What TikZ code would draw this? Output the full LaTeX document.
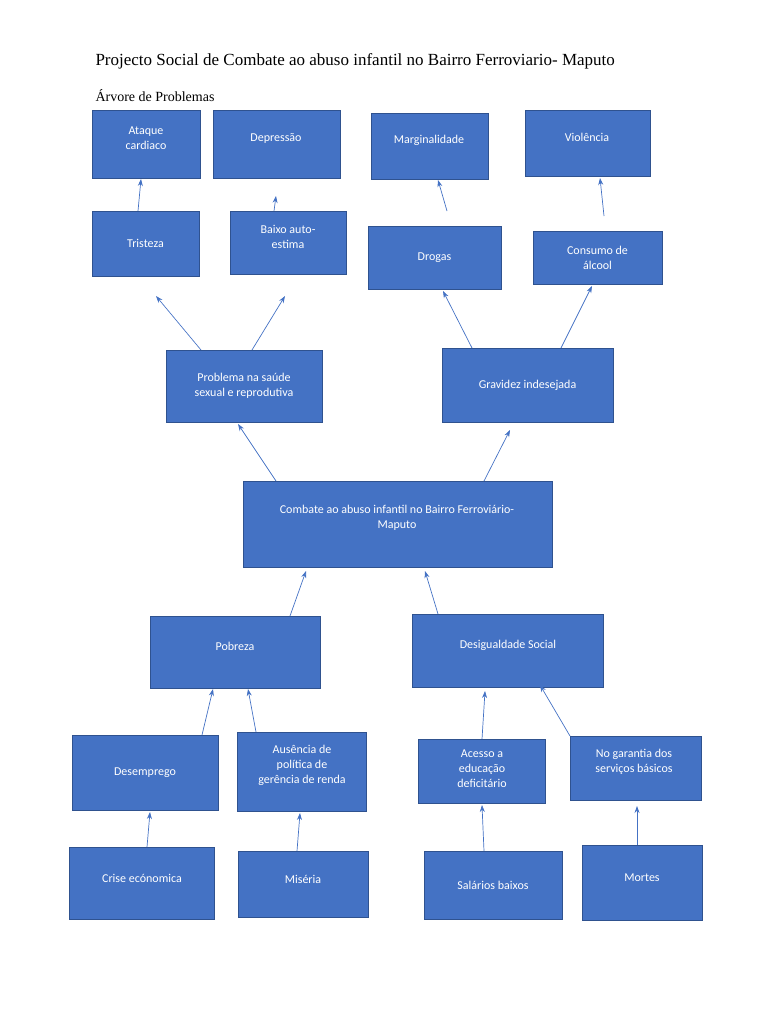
\documentclass[tikz,border=0pt]{standalone}
\usepackage{fontspec}
\setmainfont{Liberation Serif}
\newfontfamily\boxfont{Carlito}
\definecolor{bfill}{HTML}{4472C4}
\definecolor{bdraw}{HTML}{2F528F}
\usetikzlibrary{arrows.meta}
\begin{document}
\begin{tikzpicture}[x=1pt,y=-1pt,
  bx/.style={draw=bdraw,line width=0.8pt,fill=bfill,text=white,font=\boxfont\fontsize{12}{15}\selectfont,align=center},
  ar/.style={draw=bfill,line width=0.7pt,-{Stealth[length=7pt,width=5pt]}}]
\useasboundingbox (0,0) rectangle (768,1024);
\node[anchor=west,font=\fontsize{17}{20}\selectfont] (title) at (92,61) {Projecto Social de Combate ao abuso infantil no Bairro Ferroviario- Maputo};
\node[anchor=west,font=\fontsize{14}{17}\selectfont] (sub) at (92,96) {Árvore de Problemas};
\newcommand{\bxn}[6]{\node[bx,minimum width={#4-#2},minimum height={#5-#3}] (#1) at ({(#2+#4)/2},{(#3+#5)/2}) {#6};}
\bxn{ataque}{92}{110}{200}{178}{}
\node[white,font=\boxfont\fontsize{12}{15}\selectfont,align=center] at (146,138) {Ataque\\cardiaco};
\bxn{depr}{213}{110}{340}{178}{}
\node[white,font=\boxfont\fontsize{12}{15}\selectfont] at (276,138) {Depressão};
\bxn{marg}{371}{113}{488}{179}{}
\node[white,font=\boxfont\fontsize{12}{15}\selectfont] at (429,140) {Marginalidade};
\bxn{viol}{525}{110}{650}{176}{}
\node[white,font=\boxfont\fontsize{12}{15}\selectfont] at (587,137) {Violência};
\bxn{trist}{92}{211}{199}{276}{Tristeza}
\bxn{baixo}{230}{211}{346}{274}{}
\node[white,font=\boxfont\fontsize{12}{15}\selectfont,align=center] at (288,237) {Baixo auto-\\estima};
\bxn{drogas}{368}{226}{501}{289}{Drogas}
\bxn{cons}{533}{231}{662}{284}{Consumo de\\álcool}
\bxn{prob}{166}{350}{322}{422}{Problema na saúde\\sexual e reprodutiva}
\bxn{grav}{442}{348}{613}{422}{Gravidez indesejada}
\bxn{comb}{243}{481}{552}{567}{}
\node[white,font=\boxfont\fontsize{12}{15}\selectfont,align=center] at (397,518) {Combate ao abuso infantil no Bairro Ferroviário-\\Maputo};
\bxn{pobr}{150}{616}{320}{688}{}
\node[white,font=\boxfont\fontsize{12}{15}\selectfont] at (235,646) {Pobreza};
\bxn{desig}{412}{614}{603}{687}{}
\node[white,font=\boxfont\fontsize{12}{15}\selectfont] at (508,645) {Desigualdade Social};
\bxn{desem}{72}{735}{218}{810}{Desemprego}
\bxn{ausen}{237}{732}{366}{811}{}
\node[white,font=\boxfont\fontsize{12}{15}\selectfont,align=center] at (302,765) {Ausência de\\política de\\gerência de renda};
\bxn{acesso}{418}{739}{545}{803}{}
\node[white,font=\boxfont\fontsize{12}{15}\selectfont,align=center] at (482,769) {Acesso a\\educação\\deficitário};
\bxn{nogar}{570}{736}{701}{800}{}
\node[white,font=\boxfont\fontsize{12}{15}\selectfont,align=center] at (634,762) {No garantia dos\\serviços básicos};
\bxn{crise}{69}{847}{214}{919}{}
\node[white,font=\boxfont\fontsize{12}{15}\selectfont] at (142,878) {Crise ecónomica};
\bxn{miser}{238}{851}{368}{917}{}
\node[white,font=\boxfont\fontsize{12}{15}\selectfont] at (303,879) {Miséria};
\bxn{salar}{424}{851}{562}{919}{Salários baixos}
\bxn{mortes}{582}{845}{702}{920}{}
\node[white,font=\boxfont\fontsize{12}{15}\selectfont] at (642,878) {Mortes};
% connectors
\draw[ar] (138,211) -- (141,179);
\draw[ar] (274,211) -- (276,196);
\draw[ar] (447,211) -- (438,180);
\draw[ar] (604,216) -- (600,178);
\draw[ar] (201,350) -- (156,296);
\draw[ar] (252,350) -- (285,296);
\draw[ar] (472,348) -- (443,291);
\draw[ar] (561,348) -- (592,286);
\draw[ar] (276,481) -- (238,424);
\draw[ar] (484,481) -- (510,430);
\draw[ar] (290,616) -- (306,571);
\draw[ar] (438,614) -- (425,571);
\draw[ar] (202,735) -- (213,689);
\draw[ar] (256,732) -- (248,689);
\draw[ar] (482,739) -- (485,691);
\draw[ar] (570,736) -- (540,685);
\draw[ar] (147,847) -- (150,812);
\draw[ar] (297,851) -- (300,813);
\draw[ar] (484,851) -- (482,805);
\draw[ar] (637,845) -- (637,806);
\end{tikzpicture}
\end{document}
